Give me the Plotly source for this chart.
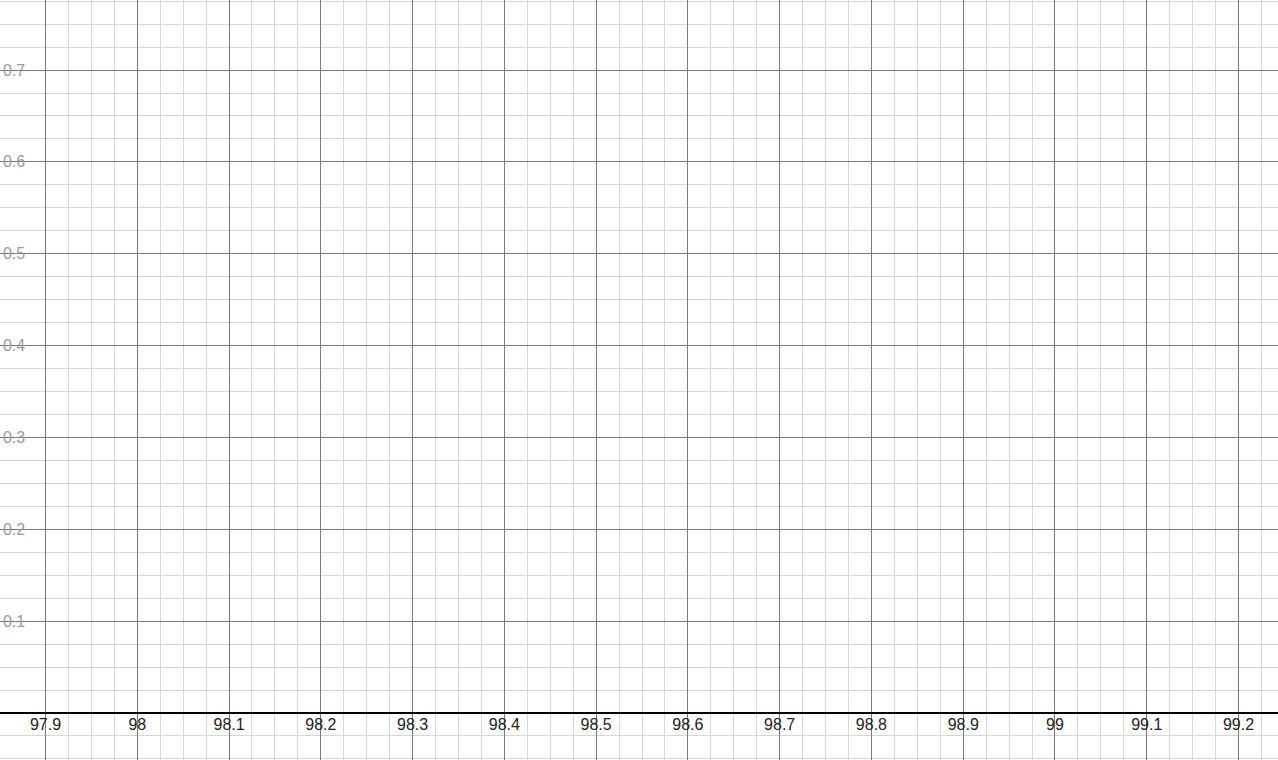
import plotly.graph_objects as go

# Axis tick values and labels
x_ticks = [97.9, 98.0, 98.1, 98.2, 98.3, 98.4, 98.5, 98.6, 98.7, 98.8, 98.9, 99.0, 99.1, 99.2]
x_labels = ["97.9", "98", "98.1", "98.2", "98.3", "98.4", "98.5", "98.6", "98.7", "98.8", "98.9", "99", "99.1", "99.2"]
y_ticks = [0.1, 0.2, 0.3, 0.4, 0.5, 0.6, 0.7]
y_labels = ["0.1", "0.2", "0.3", "0.4", "0.5", "0.6", "0.7"]

X_RANGE = [97.85042, 99.24303]
Y_RANGE = [-0.0512, 0.77625]

W, H = 1278, 760
x_axis_pos = (0 - Y_RANGE[0]) / (Y_RANGE[1] - Y_RANGE[0])

fig = go.Figure()
# invisible trace to establish axes
fig.add_trace(go.Scatter(x=[X_RANGE[0]], y=[Y_RANGE[0]], mode="markers",
                         marker=dict(opacity=0), hoverinfo="skip", showlegend=False))

MAJOR = "#7a7a7a"
MINOR = "#d6d6d6"

fig.update_layout(
    width=W, height=H,
    margin=dict(l=0, r=0, t=0, b=0),
    paper_bgcolor="white", plot_bgcolor="white",
    font=dict(family="Liberation Sans, Arial, sans-serif", size=16),
    showlegend=False,
    xaxis=dict(
        range=X_RANGE,
        tickmode="array", tickvals=x_ticks, ticktext=x_labels,
        showgrid=True, gridcolor=MAJOR, gridwidth=1,
        minor=dict(tickmode="linear", tick0=97.9, dtick=0.025,
                   showgrid=True, gridcolor=MINOR, gridwidth=1),
        zeroline=False, showline=False, ticks="",
        tickfont=dict(color="#222222", size=16),
        anchor="free", position=x_axis_pos,
        fixedrange=True,
    ),
    yaxis=dict(
        range=Y_RANGE,
        tickmode="array", tickvals=y_ticks, ticktext=y_labels,
        showgrid=True, gridcolor=MAJOR, gridwidth=1,
        minor=dict(tickmode="linear", tick0=0, dtick=0.025,
                   showgrid=True, gridcolor=MINOR, gridwidth=1),
        zeroline=True, zerolinecolor="#000000", zerolinewidth=2,
        showline=False, ticks="",
        ticklabelposition="inside",
        tickfont=dict(color="#9a9a9a", size=16),
        fixedrange=True,
    ),
)

fig.write_html(
    "out.html",
    config={"displayModeBar": False},
    post_script="document.body.style.margin='0';document.body.style.overflow='hidden';",
)
